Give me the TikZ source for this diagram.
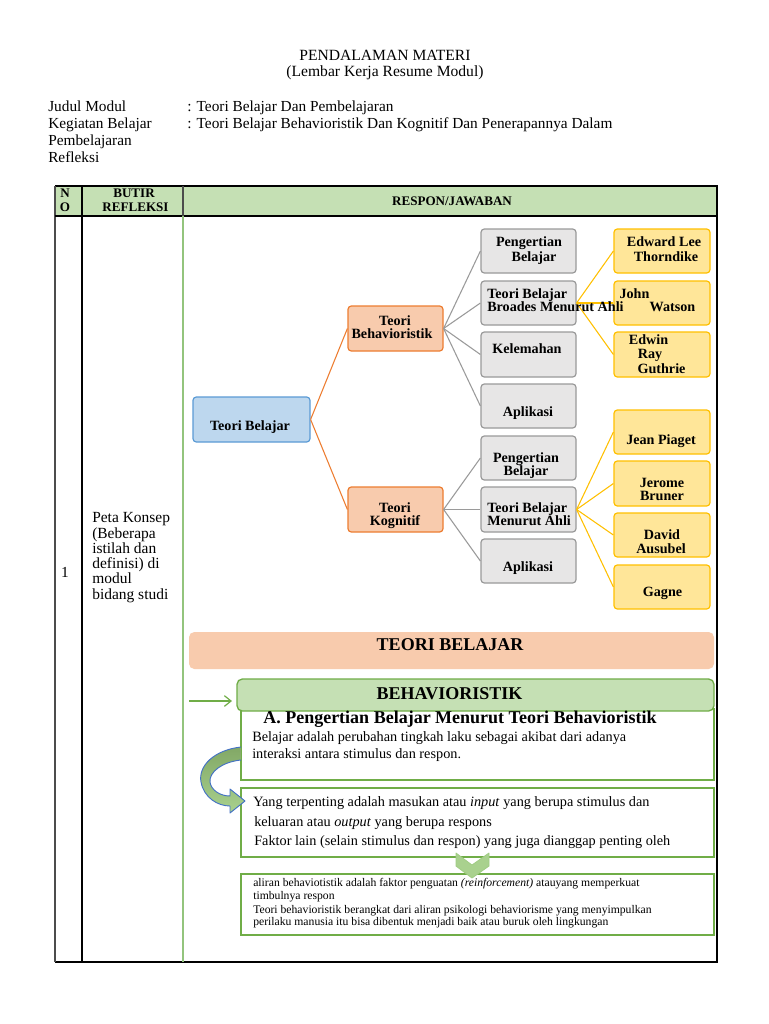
\documentclass[tikz,border=0pt]{standalone}
\usepackage{fontspec}
\setmainfont{Liberation Serif}
\usetikzlibrary{fit,arrows.meta}
\definecolor{hdrgreen}{HTML}{C5E0B4}
\definecolor{bordgreen}{HTML}{70AD47}
\definecolor{colgreen}{HTML}{93C47D}
\definecolor{orfill}{HTML}{F8CBAD}
\definecolor{ordraw}{HTML}{ED7D31}
\definecolor{blfill}{HTML}{BDD7EE}
\definecolor{bldraw}{HTML}{5B9BD5}
\definecolor{grfill}{HTML}{E7E6E6}
\definecolor{grdraw}{HTML}{9A9A9A}
\definecolor{yefill}{HTML}{FFE699}
\definecolor{yedraw}{HTML}{FFC000}
\definecolor{arrfill}{HTML}{A9D18E}
\definecolor{arrdark}{HTML}{82A866}
\definecolor{arrblue}{HTML}{4472C4}
\newcommand\fsz[1]{\fontsize{#1}{#1}\selectfont}
\begin{document}
\begin{tikzpicture}[x=0.75pt,y=-0.75pt,
  box/.style={rounded corners=2.5pt, line width=0.9pt, inner sep=0pt},
  gbox/.style={box, draw=grdraw, fill=grfill},
  ybox/.style={box, draw=yedraw, fill=yefill},
  obox/.style={box, draw=ordraw, fill=orfill},
  bbox/.style={box, draw=bldraw, fill=blfill},
  lb/.style={anchor=base, inner sep=0pt, font=\fsz{10.6}\bfseries},
  lbw/.style={anchor=base west, inner sep=0pt, font=\fsz{10.6}\bfseries},
  tx/.style={anchor=base west, inner sep=0pt},
  oline/.style={draw=ordraw, line width=0.8pt},
  gline/.style={draw=grdraw, line width=0.8pt},
  yline/.style={draw=yedraw, line width=0.8pt},
  gbord/.style={draw=bordgreen, line width=1.2pt, inner sep=0pt}
]
\useasboundingbox (0,0) rectangle (768,1024);
\fill[white] (0,0) rectangle (768,1024);

% ---------- heading ----------
\node[anchor=base, inner sep=0pt, font=\fsz{11.7}] (title) at (385,61) {PENDALAMAN MATERI};
\node[anchor=base, inner sep=0pt, font=\fsz{11.7}] (subtitle) at (385,77) {(Lembar Kerja Resume Modul)};
\node[tx, font=\fsz{11.5}] (k1) at (48,111) {Judul Modul};
\node[tx, font=\fsz{11.5}] (k2) at (48,128) {Kegiatan Belajar};
\node[tx, font=\fsz{11.5}] (k3) at (48,145) {Pembelajaran};
\node[tx, font=\fsz{11.5}] (k4) at (48,162) {Refleksi};
\node[tx, font=\fsz{11.5}] (v1) at (187,111) {: Teori Belajar Dan Pembelajaran};
\node[tx, font=\fsz{11.5}] (v2) at (187,128) {: Teori Belajar Behavioristik Dan Kognitif Dan Penerapannya Dalam};

% ---------- table ----------
\fill[hdrgreen] (55,186) rectangle (717,216);
\draw[black, line width=0.8pt] (55,186) -- (717,186) -- (717,962) -- (55,962);
\draw[black!70, line width=1.2pt] (55,186) -- (55,962);
\draw[black, line width=0.8pt] (55,216) -- (717,216);
\draw[black, line width=0.8pt] (82,186) -- (82,962);
\draw[black!70, line width=0.8pt] (183,186) -- (183,216);
\draw[colgreen, line width=0.9pt] (183,216) -- (183,962);

\node[anchor=base, inner sep=0pt, font=\fsz{9.8}\bfseries] (hn) at (65,197.5) {N};
\node[anchor=base, inner sep=0pt, font=\fsz{9.8}\bfseries] (ho) at (65,211.5) {O};
\node[anchor=base, inner sep=0pt, font=\fsz{9.8}\bfseries] (hb1) at (134,197.5) {BUTIR};
\node[anchor=base, inner sep=0pt, font=\fsz{9.8}\bfseries] (hb2) at (135.5,211.5) {REFLEKSI};
\node[anchor=base, inner sep=0pt, font=\fsz{9.8}\bfseries] (hr) at (452,205) {RESPON/JAWABAN};

\node[anchor=base, inner sep=0pt, font=\fsz{11.5}] (no1) at (65,577) {1};
\node[tx, font=\fsz{11.6}] (p1) at (92,522) {Peta Konsep};
\node[tx, font=\fsz{11.6}] (p2) at (92,538) {(Beberapa};
\node[tx, font=\fsz{11.6}] (p3) at (92,553) {istilah dan};
\node[tx, font=\fsz{11.6}] (p4) at (92,568) {definisi) di};
\node[tx, font=\fsz{11.6}] (p5) at (92,583) {modul};
\node[tx, font=\fsz{11.6}] (p6) at (92,599) {bidang studi};

% ---------- concept map boxes ----------
\node[bbox, fit={(193,397)(310,442)}] (tb) {};
\node[obox, fit={(348,306)(443,351)}] (beh) {};
\node[obox, fit={(348,487)(443,532)}] (kog) {};
\node[gbox, fit={(481,229)(576,273)}] (g1) {};
\node[gbox, fit={(481,281)(576,325)}] (g2) {};
\node[gbox, fit={(481,332)(576,377)}] (g3) {};
\node[gbox, fit={(481,384)(576,428)}] (g4) {};
\node[gbox, fit={(481,436)(576,480)}] (g5) {};
\node[gbox, fit={(481,487)(576,532)}] (g6) {};
\node[gbox, fit={(481,539)(576,583)}] (g7) {};
\node[ybox, fit={(614,229)(710,273)}] (y1) {};
\node[ybox, fit={(614,281)(710,325)}] (y2) {};
\node[ybox, fit={(614,332)(710,377)}] (y3) {};
\node[ybox, fit={(614,410)(710,454)}] (y4) {};
\node[ybox, fit={(614,461)(710,506)}] (y5) {};
\node[ybox, fit={(614,513)(710,557)}] (y6) {};
\node[ybox, fit={(614,565)(710,609)}] (y7) {};

% connectors
\draw[oline] (tb.east) -- (beh.west);
\draw[oline] (tb.east) -- (kog.west);
\foreach \g in {g1,g2,g3,g4} \draw[gline] (beh.east) -- (\g.west);
\foreach \g in {g5,g6,g7} \draw[gline] (kog.east) -- (\g.west);
\foreach \y in {y1,y2,y3} \draw[yline] (g2.east) -- (\y.west);
\foreach \y in {y4,y5,y6,y7} \draw[yline] (g6.east) -- (\y.west);

% labels
\node[lb] (tbl) at (250,430.5) {Teori Belajar};
\node[lb] (beha) at (395,325.5) {Teori};
\node[lb] (behb) at (392,338.5) {Behavioristik};
\node[lb] (koga) at (395,512.5) {Teori};
\node[lb] (kogb) at (395,525.5) {Kognitif};
\node[lb] (g1a) at (529,246.5) {Pengertian};
\node[lb] (g1b) at (534,261.5) {Belajar};
\node[lbw] (g2a) at (487,298.5) {Teori Belajar};
\node[lbw] (g2b) at (487,311.5) {Broades Menurut Ahli};
\node[lb] (g3a) at (527,353.5) {Kelemahan};
\node[lb] (g4a) at (528,416.5) {Aplikasi};
\node[lb] (g5a) at (526,462.5) {Pengertian};
\node[lb] (g5b) at (526,475.5) {Belajar};
\node[lbw] (g6a) at (487,512.5) {Teori Belajar};
\node[lbw] (g6b) at (487,525.5) {Menurut Ahli};
\node[lb] (g7a) at (528,571.5) {Aplikasi};
\node[lb] (y1a) at (664,246.5) {Edward Lee};
\node[lb] (y1b) at (666,261.5) {Thorndike};
\node[lb] (y2a) at (634.5,298.5) {John};
\node[lb] (y2b) at (672.5,311.5) {Watson};
\node[lb] (y3a) at (648.5,344) {Edwin};
\node[lb] (y3b) at (650,358) {Ray};
\node[lb] (y3c) at (661.5,373) {Guthrie};
\node[lb] (y4a) at (661,444.5) {Jean Piaget};
\node[lb] (y5a) at (662,487.5) {Jerome};
\node[lb] (y5b) at (662,500.5) {Bruner};
\node[lb] (y6a) at (662,539.5) {David};
\node[lb] (y6b) at (661,553.5) {Ausubel};
\node[lb] (y7a) at (662.5,596.5) {Gagne};

% ---------- lower section ----------
\node[fill=orfill, rounded corners=4pt, inner sep=0pt, fit={(189,632)(714,669)}] (ban) {};
\node[anchor=base, inner sep=0pt, font=\fsz{13.5}\bfseries] (bant) at (450,650) {TEORI BELAJAR};

\node[gbord, fill=white, fit={(241,709)(714,780)}] (b1) {};
\node[box, draw=bordgreen, line width=1pt, fill=hdrgreen, rounded corners=4pt, fit={(237,679)(714,711)}] (behav) {};
\node[anchor=base, inner sep=0pt, font=\fsz{13.5}\bfseries] (behavt) at (449.5,699) {BEHAVIORISTIK};
\coordinate (ga) at (189,701);
\coordinate (gb) at (232,701);
\draw[bordgreen, line width=0.9pt, -{Straight Barb[length=5pt,width=8pt]}] (ga) -- (gb);

\node[tx, font=\fsz{13.5}\bfseries] (b1h) at (263,723) {A. Pengertian Belajar Menurut Teori Behavioristik};
\node[tx, font=\fsz{10.7}] (b1a) at (252,741) {Belajar adalah perubahan tingkah laku sebagai akibat dari adanya};
\node[tx, font=\fsz{10.7}] (b1b) at (252,758) {interaksi antara stimulus dan respon.};

\node[gbord, fill=white, fit={(241,788)(714,857)}] (b2) {};
\node[tx, font=\fsz{10.7}] (b2a) at (253,806) {Yang terpenting adalah masukan atau \textit{input} yang berupa stimulus dan};
\node[tx, font=\fsz{10.7}] (b2b) at (254,826) {keluaran atau \textit{output} yang berupa respons};
\node[tx, font=\fsz{10.7}] (b2c) at (254,845) {Faktor lain (selain stimulus dan respon) yang juga dianggap penting oleh};

\node[gbord, fill=white, fit={(241,874)(714,935)}] (b3) {};
\node[tx, font=\fsz{8.75}] (b3a) at (253,886) {aliran behaviotistik adalah faktor penguatan \textit{(reinforcement)} atauyang memperkuat};
\node[tx, font=\fsz{8.75}] (b3b) at (253,899) {timbulnya respon};
\node[tx, font=\fsz{8.75}] (b3c) at (253,913) {Teori behavioristik berangkat dari aliran psikologi behaviorisme yang menyimpulkan};
\node[tx, font=\fsz{8.75}] (b3d) at (253,925) {perilaku manusia itu bisa dibentuk menjadi baik atau buruk oleh lingkungan};

% chevron
\draw[fill=arrfill, draw=arrfill!85!bordgreen, line width=0.6pt, line join=round]
  (456,853) -- (472,865) -- (489,853) -- (489,866) -- (472,878) -- (456,866) -- cycle;

% curved arrow
\shade[top color=arrdark, bottom color=arrfill]
  (241,747) .. controls (214,750) and (198,766) .. (201,782)
  .. controls (204,798) and (218,806) .. (230,806) -- (230,813) -- (245,801) -- (230,789) -- (230,796)
  .. controls (220,796) and (211,790) .. (210,782)
  .. controls (209,772) and (222,762) .. (241,760) -- cycle;
\draw[arrblue, line width=0.7pt, line join=round]
  (241,747) .. controls (214,750) and (198,766) .. (201,782)
  .. controls (204,798) and (218,806) .. (230,806) -- (230,813) -- (245,801) -- (230,789) -- (230,796)
  .. controls (220,796) and (211,790) .. (210,782)
  .. controls (209,772) and (222,762) .. (241,760);
\end{tikzpicture}
\end{document}
